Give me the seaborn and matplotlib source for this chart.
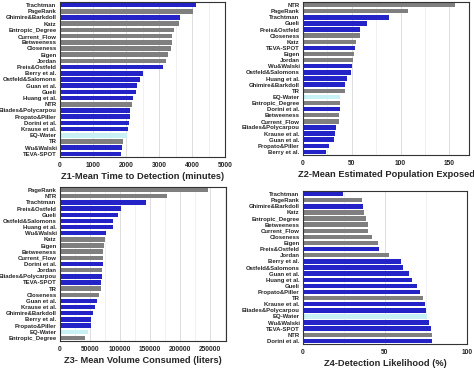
import numpy as np
import pandas as pd
import matplotlib
matplotlib.use("Agg")
import matplotlib.pyplot as plt
import seaborn as sns
from matplotlib.ticker import AutoMinorLocator

# method groups (bar colour)
centrality = ['PageRank', 'Katz', 'Entropic_Degree', 'Current_Flow', 'Betweeness',
              'Closeness', 'Eigen', 'Jordan', 'NTR', 'TR']
proposed = ['EQ-Water']

z1_names = ['Trachtman', 'PageRank', 'Ghimire&Barkdoll', 'Katz', 'Entropic_Degree',
            'Current_Flow', 'Betweeness', 'Closeness', 'Eigen', 'Jordan', 'Preis&Ostfeld',
            'Berry et al.', 'Ostfeld&Salomons', 'Guan et al.', 'Gueli', 'Huang et al.', 'NTR',
            'Eliades&Polycarpou', 'Propato&Piller', 'Dorini et al.', 'Krause et al.',
            'EQ-Water', 'TR', 'Wu&Walski', 'TEVA-SPOT']
z1_vals = [4120, 4020, 3640, 3600, 3455, 3395, 3385, 3375, 3275, 3220, 3120,
           2505, 2425, 2345, 2295, 2210, 2180, 2130, 2110, 2100, 2060,
           2040, 1900, 1880, 1840]

z2_names = ['NTR', 'PageRank', 'Trachtman', 'Gueli', 'Preis&Ostfeld', 'Closeness', 'Katz',
            'TEVA-SPOT', 'Eigen', 'Jordan', 'Wu&Walski', 'Ostfeld&Salomons', 'Huang et al.',
            'Ghimire&Barkdoll', 'TR', 'EQ-Water', 'Entropic_Degree', 'Dorini et al.',
            'Betweeness', 'Current_Flow', 'Eliades&Polycarpou', 'Krause et al.',
            'Guan et al.', 'Propato&Piller', 'Berry et al.']
z2_vals = [156, 107.5, 88.5, 65.7, 58.8, 58.2, 54.4, 53.7, 52.4, 51.4, 49.7, 49.3, 44.9,
           43.5, 42.5, 38.4, 37.8, 37.4, 36.7, 36.7, 33.7, 33.0, 31.6, 26.9, 23.8]

z3_names = ['PageRank', 'NTR', 'Trachtman', 'Preis&Ostfeld', 'Gueli', 'Ostfeld&Salomons',
            'Huang et al.', 'Wu&Walski', 'Katz', 'Eigen', 'Betweeness', 'Current_Flow',
            'Dorini et al.', 'Jordan', 'Eliades&Polycarpou', 'TEVA-SPOT', 'TR', 'Closeness',
            'Guan et al.', 'Krause et al.', 'Ghimire&Barkdoll', 'Berry et al.',
            'Propato&Piller', 'EQ-Water', 'Entropic_Degree']
z3_vals = [247000, 178000, 144300, 102300, 96800, 88400, 87800, 76100, 74900, 73300,
           72100, 72100, 71000, 69400, 69400, 68800, 68200, 65400, 62100, 57600,
           54800, 52000, 50900, 46400, 42500]

z4_names = ['Trachtman', 'PageRank', 'Ghimire&Barkdoll', 'Katz', 'Entropic_Degree',
            'Betweeness', 'Current_Flow', 'Closeness', 'Eigen', 'Preis&Ostfeld', 'Jordan',
            'Berry et al.', 'Ostfeld&Salomons', 'Guan et al.', 'Huang et al.', 'Gueli',
            'Propato&Piller', 'TR', 'Krause et al.', 'Eliades&Polycarpou', 'EQ-Water',
            'Wu&Walski', 'TEVA-SPOT', 'NTR', 'Dorini et al.']
z4_vals = [24.3, 35.7, 36.5, 37.3, 38.2, 39.6, 39.6, 42.0, 45.8, 46.6, 52.6, 59.6, 61.0,
           64.5, 66.3, 69.5, 71.1, 73.3, 74.3, 75.1, 75.7, 77.1, 77.9, 78.5, 78.5]

titles = ['Z1-Mean Time to Detection (minutes)', 'Z2-Mean Estimated Population Exposed',
          'Z3- Mean Volume Consumed (liters)', 'Z4-Detection Likelihood (%)']
xlims = [(0, 5000), (0, 170), (0, 277000), (0, 100)]
xticks = [[0, 1000, 2000, 3000, 4000, 5000], [0, 50, 100, 150],
          [0, 50000, 100000, 150000, 200000, 250000], [0, 50, 100]]

palette = {'method': '#0808e2', 'centrality': '#7f7f7f', 'proposed': '#bff8fc'}


def group_of(name):
    if name in proposed:
        return 'proposed'
    if name in centrality:
        return 'centrality'
    return 'method'


sns.set_style('white')
plt.rcParams['font.family'] = ['Liberation Sans', 'DejaVu Sans']

fig = plt.figure(figsize=(4.74, 3.68), dpi=100)
# axes boxes in pixels: left, top, right, bottom
boxes = [(60, 2, 225, 157), (303, 2, 469, 155), (60, 187, 226, 341), (303, 191, 467, 344)]
data = [(z1_names, z1_vals), (z2_names, z2_vals), (z3_names, z3_vals), (z4_names, z4_vals)]

for i, ((names, vals), (l, t, r, b)) in enumerate(zip(data, boxes)):
    ax = fig.add_axes([l / 474, 1 - b / 368, (r - l) / 474, (b - t) / 368])
    df = pd.DataFrame({'name': names, 'value': vals})
    df['group'] = [group_of(n) for n in names]
    sns.barplot(data=df, x='value', y='name', hue='group', palette=palette,
                dodge=False, legend=False, width=0.72, ax=ax, orient='h',
                linewidth=0)
    ax.set_xlim(*xlims[i])
    ax.set_xticks(xticks[i])
    ax.xaxis.set_minor_locator(AutoMinorLocator(2))
    ax.grid(axis='x', which='major', color='#d8d8d8', lw=0.6)
    ax.grid(axis='x', which='minor', color='#ececec', lw=0.5)
    ax.set_axisbelow(True)
    ax.set_ylabel('')
    ax.set_xlabel(titles[i], fontsize=6.7, fontweight='bold', labelpad=2)
    ax.tick_params(axis='y', labelsize=4.3, length=1.5, pad=1)
    ax.tick_params(axis='x', labelsize=4.8, length=2, pad=1.5)
    ax.tick_params(axis='x', which='minor', length=1)
    for lab in ax.get_xticklabels() + ax.get_yticklabels():
        lab.set_fontweight('bold')
    for s in ax.spines.values():
        s.set_color('#333333')
        s.set_linewidth(0.8)

fig.savefig('out.png', dpi=100)
